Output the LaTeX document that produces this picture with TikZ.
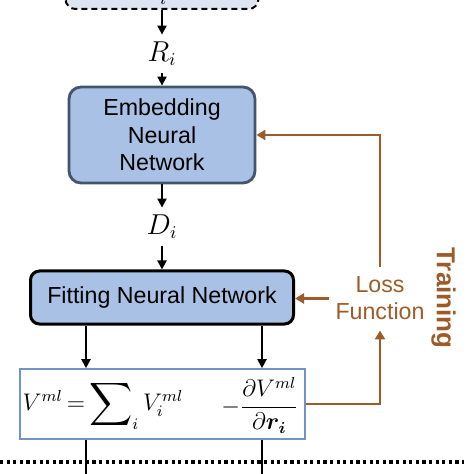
\documentclass[tikz,border=0pt]{standalone}
\usepackage{amsmath}
\usepackage{bm}
\usepackage{fontspec}
\setmainfont{Liberation Sans}
\usetikzlibrary{arrows.meta}
\definecolor{boxblue}{HTML}{A9C1E4}
\definecolor{boxedge}{HTML}{43546C}
\definecolor{eqedge}{HTML}{7093C8}
\definecolor{lossbrown}{HTML}{9E5B2A}
\definecolor{inputfill}{HTML}{DDE5F1}
\newcommand{\bigsum}{\mathop{\vcenter{\hbox{\scalebox{1.25}{$\displaystyle\sum$}}}}\nolimits}
\tikzset{
	netbox/.style={draw=boxedge, fill=boxblue, line width=1.4pt, rounded corners=6pt, align=center, font=\fontsize{11.6}{13.75}\selectfont},
	arr/.style={-{Triangle[length=4.5pt,width=4.5pt]}, line width=1pt},
	lossarr/.style={lossbrown, -{Triangle[length=4.5pt,width=5pt]}, line width=1.2pt},
	mathlbl/.style={font=\fontsize{13.5}{16}\selectfont, inner sep=3.5pt},
	eqlbl/.style={font=\fontsize{11.8}{14}\selectfont, inner sep=1pt},
}
\begin{document}
\begin{tikzpicture}[x=0.5pt, y=-0.5pt]
	\useasboundingbox (0,0) rectangle (474,474);
	\node[draw, line width=1pt, dash pattern=on 3pt off 2pt, fill=inputfill, rounded corners=5pt, minimum width=96.5pt, minimum height=30pt] (inbox) at (162,-21) {};
	\node[anchor=base, inner sep=0pt, font=\fontsize{9}{10}\selectfont] (insub) at (163,5) {$i$};
	\node[mathlbl] (ri) at (162,54) {$R_i$};
	\node[netbox, minimum width=93pt, minimum height=48pt] (embed) at (162,135) {Embedding\\Neural\\Network};
	\node[mathlbl] (di) at (162,227) {$D_i$};
	\node[netbox, draw=black, line width=1.5pt, rounded corners=4.5pt, minimum width=131.5pt, minimum height=26.5pt] (fit) at (162,297.5) {Fitting Neural Network};
	\node[draw=eqedge, line width=0.8pt, minimum width=142.5pt, minimum height=35pt] (eqbox) at (162.5,404) {};
	\node[eqlbl] (eqsum) at (103,405) {$V^{ml}\mskip-2mu=\mskip-2mu\bigsum_i V_i^{ml}$};
	\node[eqlbl] (eqgrad) at (260,405) {$-\dfrac{\partial V^{ml}}{\partial\bm{r}_{\bm{i}}}$};
	\node[text=lossbrown, align=center, font=\fontsize{11.6}{13.5}\selectfont, inner xsep=3pt, inner ysep=5pt] (loss) at (380,298.5) {Loss\\Function};
	\node[text=lossbrown, rotate=-90, font=\fontsize{13}{15}\selectfont\bfseries] (train) at (443.5,298) {Training};

	\coordinate (vl) at (86,0);
	\coordinate (vr) at (262,0);
	\coordinate (floor) at (0,480);
	\coordinate (sepl) at (0,462);
	\coordinate (sepr) at (464,462);

	\draw[arr] (inbox) -- (ri);
	\draw[arr] (ri) -- (embed);
	\draw[arr] (embed) -- (di);
	\draw[arr] (di) -- (fit);
	\draw[arr] (fit.south -| vl) -- (eqbox.north -| vl);
	\draw[arr] (fit.south -| vr) -- (eqbox.north -| vr);
	\draw[line width=1pt] (eqbox.south -| vl) -- (floor -| vl);
	\draw[line width=1pt] (eqbox.south -| vr) -- (floor -| vr);
	\draw[line width=1.6pt, dash pattern=on 1.6pt off 1.7pt] (sepl) -- (sepr);
	\draw[lossarr] (loss.north) |- (embed.east);
	\draw[lossarr] (loss.west) -- (loss.west -| fit.east);
	\draw[lossarr] (eqbox.east) -| (loss.south);
\end{tikzpicture}
\end{document}
